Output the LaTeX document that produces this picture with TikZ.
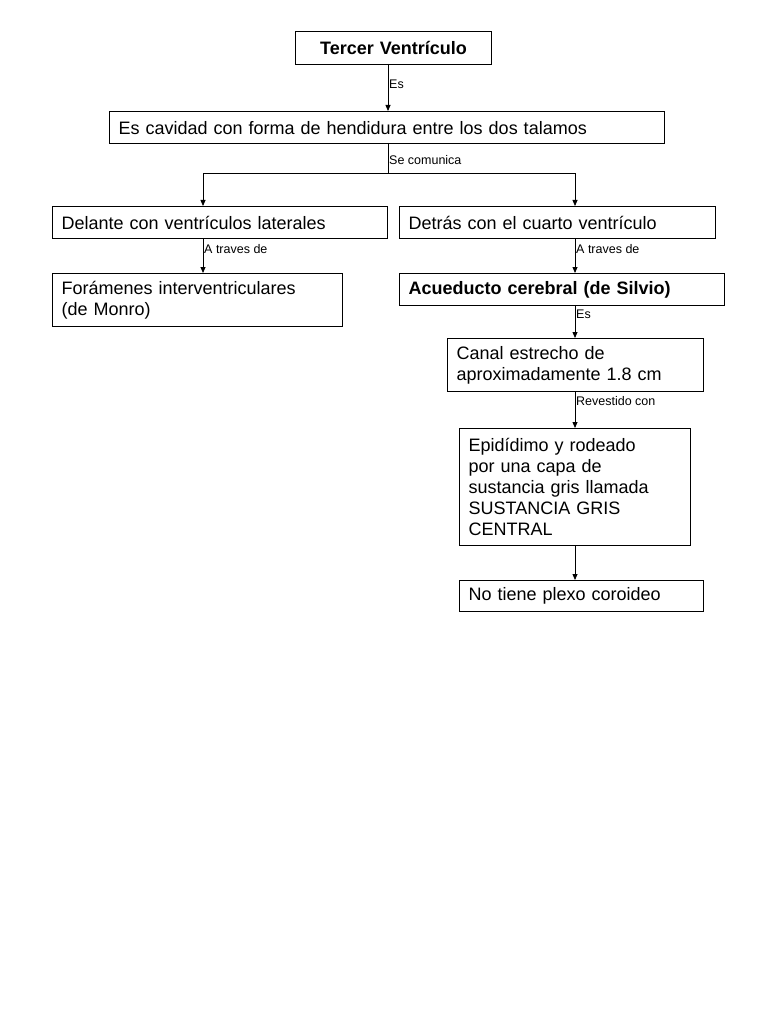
\documentclass[tikz,border=0pt]{standalone}
\usepackage{fontspec}
\setmainfont{Liberation Sans}
\usetikzlibrary{arrows.meta}
\begin{document}
\begin{tikzpicture}[x=1pt,y=-1pt,
 bx/.style={draw,line width=1.2pt,inner xsep=9pt,inner ysep=0pt,align=left,font=\fontsize{18}{21}\selectfont,anchor=north west},
 lb/.style={font=\fontsize{12.5}{14}\selectfont,anchor=west,inner sep=1pt},
 ar/.style={line width=0.8pt,-{Triangle[length=6pt,width=5pt]}}]
\useasboundingbox (0,0) rectangle (768,1024);
\newcommand{\mybox}[6]{\node[bx,text width=#4-#2-18pt,minimum height=#5-#3] (#1) at (#2,#3) {#6};}
\mybox{a}{295}{31}{491}{64}{\hfil\textbf{Tercer Ventrículo}}
\mybox{b}{109}{111}{664}{143}{Es cavidad con forma de hendidura entre los dos talamos}
\mybox{c}{52}{206}{387}{238}{Delante con ventrículos laterales}
\mybox{d}{399}{206}{715}{238}{Detrás con el cuarto ventrículo}
\mybox{e}{52}{273}{342}{326}{Forámenes interventriculares\\(de Monro)}
\mybox{f}{399}{273}{724}{305}{\textbf{Acueducto cerebral (de Silvio)}}
\mybox{g}{447}{338}{703}{391}{Canal estrecho de\\aproximadamente 1.8 cm}
\mybox{h}{459}{428}{690}{545}{Epidídimo y rodeado\\por una capa de\\sustancia gris llamada\\SUSTANCIA GRIS\\CENTRAL}
\mybox{i}{459}{580}{703}{611}{No tiene plexo coroideo}
\draw[ar] (388,64) -- (388,111);
\node[lb] (la) at (388,84) {Es};
\coordinate (j) at (388,173);
\draw[line width=0.8pt] (388,143) -- (j);
\draw[ar] (j) -| (203,206);
\draw[ar] (j) -| (575,206);
\node[lb] (lb1) at (388,160) {Se comunica};
\draw[ar] (203,238) -- (203,273);
\node[lb] (lc) at (203,249) {A traves de};
\draw[ar] (575,238) -- (575,273);
\node[lb] (ld) at (575,249) {A traves de};
\draw[ar] (575,305) -- (575,338);
\node[lb] (le) at (575,314) {Es};
\draw[ar] (575,391) -- (575,428);
\node[lb] (lf) at (575,401) {Revestido con};
\draw[ar] (575,545) -- (575,580);
\end{tikzpicture}
\end{document}
